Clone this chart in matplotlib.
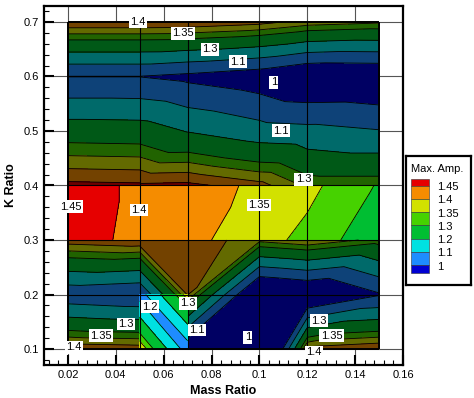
import numpy as np
import matplotlib
matplotlib.use("Agg")
import matplotlib.pyplot as plt
import matplotlib.tri as mtri
import matplotlib.colors as mcolors
from matplotlib.patches import Rectangle
from matplotlib.ticker import MultipleLocator

plt.rcParams['font.family'] = ['Liberation Sans', 'DejaVu Sans']

# contour levels and the colour of each band (lowest band first)
levels = [1.0, 1.1, 1.2, 1.3, 1.35, 1.4, 1.45]
band_colors = ['#0000d2', '#1e8cff', '#00e1e1', '#00be32', '#46d200', '#d2e100', '#f58c00', '#e60000']

# mesh nodes (mass ratio) shared by every zone
mass = [0.02, 0.05, 0.07, 0.10, 0.12, 0.15]

# upper zone, K ratio 0.4 - 0.7
k_top = [0.4, 0.5, 0.6, 0.7]
amp_top = [
    [1.465, 1.46, 1.465, 1.42, 1.34, 1.34],
    [1.255, 1.25, 1.195, 1.14, 1.13, 1.105],
    [0.998, 0.998, 0.975, 0.935, 0.88, 0.885],
    [1.448, 1.448, 1.445, 1.42, 1.38, 1.36],
]

# middle zone, K ratio 0.3 - 0.4
k_mid = [0.3, 0.4]
amp_mid = [
    [1.50, 1.42, 1.415, 1.37, 1.335, 1.26],
    [1.50, 1.43, 1.425, 1.39, 1.365, 1.295],
]

# lower zone, K ratio 0.1 - 0.3
k_bot = [0.1, 0.2, 0.3]
amp_bot = [
    [1.44, 1.43, 0.90, 0.60, 1.42, 1.45],
    [1.03, 1.005, 1.405, 0.82, 0.86, 0.99],
    [1.43, 1.448, 1.44, 1.367, 1.40, 1.33],
]

# small bright patch
mass_patch = [0.05, 0.07]
k_patch = [0.1, 0.2]
amp_patch = [
    [1.40, 1.05],
    [1.06, 1.38],
]

# contour labels as seen on the plot
label_text = ['1.4', '1.35', '1.3', '1.1', '1', '1.1', '1.3',
              '1.45', '1.4', '1.35',
              '1.2', '1.3', '1.3', '1.1', '1.35', '1.4', '1', '1.3', '1.35', '1.4']
label_x = [0.0493, 0.068, 0.0795, 0.091, 0.106, 0.1089, 0.1184,
           0.0213, 0.0495, 0.0998,
           0.0544, 0.0702, 0.0443, 0.0739, 0.0337, 0.0225, 0.0952, 0.1249, 0.1301, 0.1228]
label_y = [0.7005, 0.679, 0.65, 0.627, 0.589, 0.5006, 0.4114,
           0.361, 0.355, 0.364,
           0.1776, 0.1838, 0.1459, 0.1349, 0.1244, 0.1031, 0.1214, 0.1519, 0.1244, 0.0939]

xtick_vals = [0.02, 0.04, 0.06, 0.08, 0.10, 0.12, 0.14, 0.16]
xtick_labels = ['0.02', '0.04', '0.06', '0.08', '0.1', '0.12', '0.14', '0.16']
ytick_vals = [0.1, 0.2, 0.3, 0.4, 0.5, 0.6, 0.7]
ytick_labels = ['0.1', '0.2', '0.3', '0.4', '0.5', '0.6', '0.7']

bounds = [0.0] + levels + [2.0]


def darken(colors, f=0.47):
    return [tuple(c * f for c in mcolors.to_rgb(col)) for col in colors]


def zone_tri(xs, ys, flip):
    """split every quad of the mesh in two triangles, diagonal picked by flip"""
    X, Y = np.meshgrid(xs, ys)
    nx = len(xs)
    tris = []
    for j in range(len(ys) - 1):
        for i in range(nx - 1):
            a = j * nx + i
            b = a + 1
            c = a + nx
            d = c + 1
            if flip[j][i]:
                tris += [[a, b, c], [b, d, c]]
            else:
                tris += [[a, b, d], [a, d, c]]
    return mtri.Triangulation(X.ravel(), Y.ravel(), tris)


def draw_zone(ax, xs, ys, vals, flip, colors, z):
    tri = zone_tri(xs, ys, flip)
    v = np.asarray(vals, dtype=float).ravel()
    ax.tricontourf(tri, v, levels=bounds, colors=colors, zorder=z)
    ax.tricontour(tri, v, levels=levels, colors='black', linewidths=0.6, zorder=z + 0.5)


fig = plt.figure(figsize=(4.74, 3.98), dpi=100)
ax = fig.add_axes([44 / 474, 1 - 365 / 398, 359 / 474, 359 / 398])

dark = darken(band_colors)
draw_zone(ax, mass, k_top, amp_top, [[0] * 5] * 3, dark, 1)
draw_zone(ax, mass, k_mid, amp_mid, [[0] * 5], band_colors, 1)
draw_zone(ax, mass, k_bot, amp_bot, [[0, 1, 0, 0, 0], [0, 1, 0, 0, 0]], dark, 1)
draw_zone(ax, mass_patch, k_patch, amp_patch, [[1]], band_colors, 3)

# mesh lines
ax.vlines(mass[1:-1], k_bot[0], k_top[-1], color='black', lw=0.8, zorder=5)
ax.hlines([0.2, 0.3, 0.4], mass[0], mass[-1], color='black', lw=0.8, zorder=5)
ax.vlines([mass[0], mass[-1]], k_bot[0], k_top[-1], color='black', lw=1.4, zorder=5)
ax.hlines([k_bot[0], k_top[-1]], mass[0], mass[-1], color='black', lw=1.4, zorder=5)

for t, x, y in zip(label_text, label_x, label_y):
    ax.text(x, y, t, ha='center', va='center', fontsize=8, zorder=12,
            bbox=dict(boxstyle='square,pad=0.12', fc='white', ec='none'))

ax.set_xlim(0.01, 0.16)
ax.set_ylim(0.0707, 0.7293)
ax.set_xticks(xtick_vals)
ax.set_xticklabels(xtick_labels)
ax.set_yticks(ytick_vals)
ax.set_yticklabels(ytick_labels)
ax.xaxis.set_minor_locator(MultipleLocator(0.004))
ax.yaxis.set_minor_locator(MultipleLocator(0.02))
ax.tick_params(which='major', direction='in', length=7, width=1.5, labelsize=8,
               top=False, right=False)
ax.tick_params(which='minor', direction='in', length=3.5, width=0.8,
               top=False, right=False)
ax.grid(True, which='major', color='#555555', lw=0.8)
ax.set_axisbelow(True)
for s in ax.spines.values():
    s.set_linewidth(1.6)
ax.set_xlabel('Mass Ratio', fontsize=9, fontweight='bold', labelpad=4)
ax.set_ylabel('K Ratio', fontsize=9, fontweight='bold', labelpad=5)

# Tecplot style legend box
lax = fig.add_axes([406 / 474, 1 - 285 / 398, 65 / 474, 129 / 398])
lax.set_xlim(0, 65)
lax.set_ylim(129, 0)
lax.set_xticks([])
lax.set_yticks([])
for s in lax.spines.values():
    s.set_linewidth(1.6)
lax.text(31.5, 13, 'Max. Amp.', ha='center', va='center', fontsize=8)
step = 13.3
first = 29.5
legend_colors = band_colors[::-1]
for k, col in enumerate(legend_colors):
    if k == 0:
        top, h = first - 6.5, 6.5
    elif k == len(legend_colors) - 1:
        top, h = first + step * (k - 1), 7.2
    else:
        top, h = first + step * (k - 1), step
    lax.add_patch(Rectangle((5, top), 18, h, fc=col, ec='#333333', lw=0.4))
for k, lv in enumerate(levels[::-1]):
    lax.text(30.7, first + step * k + 1.5, '%g' % lv, ha='left', va='center', fontsize=8)

fig.savefig('out.png', dpi=100)
